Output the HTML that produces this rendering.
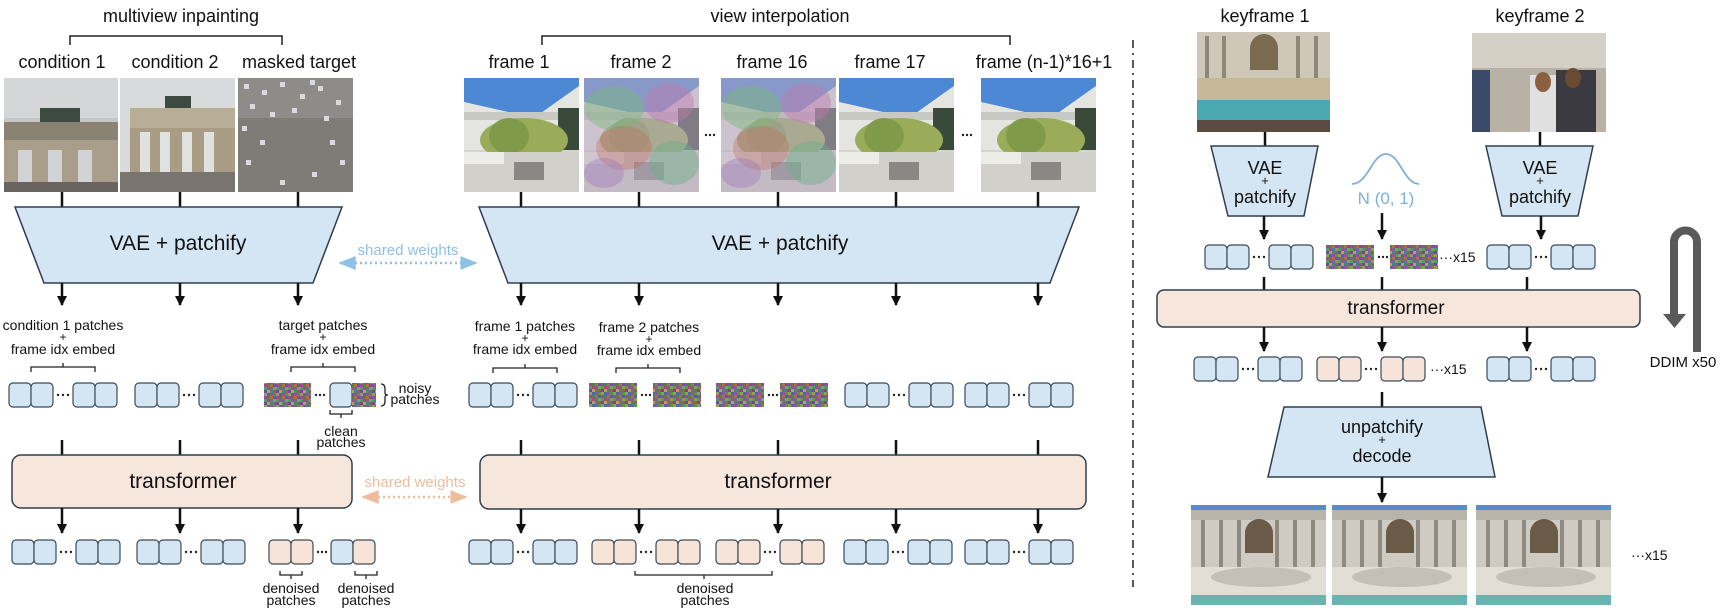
<!DOCTYPE html>
<html><head><meta charset="utf-8"><style>
html,body{margin:0;padding:0;background:#fff;}
svg{display:block;font-family:"Liberation Sans",sans-serif;}
</style></head><body>
<svg width="1724" height="613" viewBox="0 0 1724 613" xmlns="http://www.w3.org/2000/svg">
<defs>
<marker id="ah" viewBox="0 0 10 10" refX="9" refY="5" markerWidth="4" markerHeight="4" orient="auto"><path d="M0,0 L10,5 L0,10 z" fill="#111"/></marker>
<marker id="bh" viewBox="0 0 10 10" refX="9" refY="5" markerWidth="7" markerHeight="7" orient="auto-start-reverse"><path d="M0,1 L10,5 L0,9 z" fill="#8fc0e6"/></marker>
<marker id="oh" viewBox="0 0 10 10" refX="9" refY="5" markerWidth="7" markerHeight="7" orient="auto-start-reverse"><path d="M0,1 L10,5 L0,9 z" fill="#edbd9e"/></marker>
<pattern id="noise" width="12" height="12" patternUnits="userSpaceOnUse">
<rect width="12" height="12" fill="#7a8a6a"/>
<rect x="0" y="0" width="3" height="3" fill="#a04a8a"/><rect x="3" y="0" width="3" height="3" fill="#3f8a4a"/><rect x="6" y="0" width="3" height="3" fill="#c06a3a"/><rect x="9" y="0" width="3" height="3" fill="#5a5ab0"/>
<rect x="0" y="3" width="3" height="3" fill="#4aa06a"/><rect x="3" y="3" width="3" height="3" fill="#b04a6a"/><rect x="6" y="3" width="3" height="3" fill="#6a6aa0"/><rect x="9" y="3" width="3" height="3" fill="#8aa04a"/>
<rect x="0" y="6" width="3" height="3" fill="#6a4aa0"/><rect x="3" y="6" width="3" height="3" fill="#c0a04a"/><rect x="6" y="6" width="3" height="3" fill="#3a8a8a"/><rect x="9" y="6" width="3" height="3" fill="#a05a4a"/>
<rect x="0" y="9" width="3" height="3" fill="#9a9a5a"/><rect x="3" y="9" width="3" height="3" fill="#4a6aa0"/><rect x="6" y="9" width="3" height="3" fill="#a04aa0"/><rect x="9" y="9" width="3" height="3" fill="#4a9a4a"/>
</pattern>
<g id="pb"><rect x="0" y="0" width="22" height="24" rx="4" fill="#d4e6f4" stroke="#3c4a58" stroke-width="1.2"/><rect x="22" y="0" width="22" height="24" rx="4" fill="#d4e6f4" stroke="#3c4a58" stroke-width="1.2"/><circle cx="49" cy="12" r="1.2" fill="#222"/><circle cx="54" cy="12" r="1.2" fill="#222"/><circle cx="59" cy="12" r="1.2" fill="#222"/><rect x="64" y="0" width="22" height="24" rx="4" fill="#d4e6f4" stroke="#3c4a58" stroke-width="1.2"/><rect x="86" y="0" width="22" height="24" rx="4" fill="#d4e6f4" stroke="#3c4a58" stroke-width="1.2"/></g>
<g id="po"><rect x="0" y="0" width="22" height="24" rx="4" fill="#f6e4d8" stroke="#3c4a58" stroke-width="1.2"/><rect x="22" y="0" width="22" height="24" rx="4" fill="#f6e4d8" stroke="#3c4a58" stroke-width="1.2"/><circle cx="49" cy="12" r="1.2" fill="#222"/><circle cx="54" cy="12" r="1.2" fill="#222"/><circle cx="59" cy="12" r="1.2" fill="#222"/><rect x="64" y="0" width="22" height="24" rx="4" fill="#f6e4d8" stroke="#3c4a58" stroke-width="1.2"/><rect x="86" y="0" width="22" height="24" rx="4" fill="#f6e4d8" stroke="#3c4a58" stroke-width="1.2"/></g>
<g id="pn"><rect x="0" y="0" width="48" height="24" fill="url(#noise)"/><circle cx="53" cy="12" r="1.2" fill="#222"/><circle cx="57" cy="12" r="1.2" fill="#222"/><circle cx="61" cy="12" r="1.2" fill="#222"/><rect x="64" y="0" width="48" height="24" fill="url(#noise)"/></g>
<g id="court">
<rect width="115" height="114" fill="#d6d4cf"/>
<polygon points="0,0 115,0 115,8 70,40 0,24" fill="#4d88d4"/>
<polygon points="0,24 70,40 115,8 115,72 0,72" fill="#e4e4e0"/>
<rect x="0" y="34" width="115" height="8" fill="#c9c9c4"/>
<rect x="94" y="30" width="21" height="42" fill="#3a4a3a"/>
<ellipse cx="60" cy="62" rx="44" ry="22" fill="#9aab5a"/>
<ellipse cx="45" cy="58" rx="20" ry="18" fill="#7f9a48"/>
<rect x="0" y="74" width="115" height="40" fill="#d2d0ca"/>
<rect x="0" y="74" width="40" height="12" fill="#ecece8"/>
<rect x="50" y="84" width="30" height="18" fill="#6a6a66" opacity="0.7"/>
</g>
<g id="cnoise">
<rect width="115" height="114" fill="#b8a8c0" opacity="0.55"/>
<ellipse cx="30" cy="30" rx="30" ry="22" fill="#7ab87a" opacity="0.45"/>
<ellipse cx="85" cy="25" rx="25" ry="20" fill="#c07ab0" opacity="0.45"/>
<ellipse cx="40" cy="70" rx="28" ry="22" fill="#c06a5a" opacity="0.35"/>
<ellipse cx="90" cy="85" rx="25" ry="22" fill="#6ab08a" opacity="0.45"/>
<ellipse cx="20" cy="95" rx="20" ry="15" fill="#a07ac0" opacity="0.4"/>
</g>
<g id="trevi">
<rect width="135" height="100" fill="#cfcbc2"/>
<rect width="135" height="5" fill="#5a8ad0"/>
<rect x="0" y="5" width="135" height="10" fill="#b8b4aa"/>
<g fill="#8e8a80"><rect x="10" y="15" width="4" height="50"/><rect x="28" y="15" width="4" height="50"/><rect x="46" y="15" width="4" height="50"/><rect x="84" y="15" width="4" height="50"/><rect x="102" y="15" width="4" height="50"/><rect x="120" y="15" width="4" height="50"/></g>
<path d="M54,48 V28 A14,14 0 0 1 82,28 V48 z" fill="#6a5a48"/>
<rect x="0" y="62" width="135" height="28" fill="#e2ded6"/>
<ellipse cx="70" cy="72" rx="50" ry="10" fill="#b0aca2" opacity="0.6"/>
<rect x="0" y="90" width="135" height="10" fill="#6ab4b0"/>
</g>
</defs>

<!-- LEFT: multiview inpainting -->
<text x="181" y="22" font-size="18" text-anchor="middle" fill="#111">multiview inpainting</text>
<path d="M70,45 V36 H282 V45" fill="none" stroke="#222" stroke-width="1.5"/>
<text x="62" y="68" font-size="18" text-anchor="middle" fill="#111">condition 1</text>
<text x="175" y="68" font-size="18" text-anchor="middle" fill="#111">condition 2</text>
<text x="299" y="68" font-size="18" text-anchor="middle" fill="#111">masked target</text>
<g>
<rect x="4" y="78" width="114" height="114" fill="#c4c6c8"/>
<rect x="4" y="78" width="114" height="40" fill="#d4d6d8"/>
<rect x="40" y="108" width="40" height="14" fill="#3d4a42"/>
<rect x="4" y="122" width="114" height="18" fill="#8a8272"/>
<rect x="4" y="140" width="114" height="52" fill="#a89e8a"/>
<g fill="#d0d2d4"><rect x="18" y="150" width="14" height="42"/><rect x="48" y="150" width="14" height="42"/><rect x="78" y="150" width="14" height="42"/></g>
<rect x="4" y="182" width="114" height="10" fill="#6a6460"/>
</g>
<g>
<rect x="120" y="78" width="115" height="114" fill="#d8dadc"/>
<rect x="165" y="96" width="26" height="12" fill="#3d4a42"/>
<rect x="130" y="108" width="105" height="20" fill="#b8ae98"/>
<rect x="130" y="128" width="105" height="50" fill="#a89c84"/>
<g fill="#e0e2e2"><rect x="140" y="132" width="10" height="44"/><rect x="160" y="132" width="10" height="44"/><rect x="182" y="132" width="10" height="44"/><rect x="204" y="132" width="10" height="44"/></g>
<rect x="120" y="172" width="115" height="20" fill="#7a7470"/>
</g>
<g>
<rect x="238" y="78" width="115" height="114" fill="#7e7c76"/>
<rect x="238" y="78" width="115" height="40" fill="#8e8c88"/>
<g fill="#d8dade"><rect x="244" y="84" width="5" height="5"/><rect x="262" y="90" width="5" height="5"/><rect x="280" y="82" width="5" height="5"/><rect x="300" y="94" width="5" height="5"/><rect x="318" y="86" width="5" height="5"/><rect x="336" y="100" width="5" height="5"/><rect x="250" y="104" width="5" height="5"/><rect x="270" y="112" width="5" height="5"/><rect x="292" y="108" width="5" height="5"/><rect x="324" y="116" width="5" height="5"/><rect x="242" y="126" width="5" height="5"/><rect x="260" y="140" width="5" height="5"/><rect x="330" y="140" width="5" height="5"/><rect x="246" y="160" width="5" height="5"/><rect x="312" y="172" width="5" height="5"/><rect x="280" y="180" width="5" height="5"/><rect x="340" y="160" width="5" height="5"/><rect x="310" y="80" width="5" height="5"/></g>
</g>
<g stroke="#111" stroke-width="2.5"><line x1="62" y1="192" x2="62" y2="207"/><line x1="180" y1="192" x2="180" y2="207"/><line x1="298" y1="192" x2="298" y2="207"/></g>
<polygon points="15,207 342,207 313,283 44,283" fill="#d4e6f4" stroke="#2e3e4e" stroke-width="1.5"/>
<text x="178" y="250" font-size="21" text-anchor="middle" fill="#111">VAE + patchify</text>
<g stroke="#111" stroke-width="2.5" marker-end="url(#ah)"><line x1="62" y1="283" x2="62" y2="305"/><line x1="180" y1="283" x2="180" y2="305"/><line x1="298" y1="283" x2="298" y2="305"/></g>
<text x="408" y="255" font-size="15" text-anchor="middle" fill="#8fc0e6">shared weights</text>
<line x1="340" y1="263" x2="476" y2="263" stroke="#8fc0e6" stroke-width="2.5" stroke-dasharray="2 3" marker-start="url(#bh)" marker-end="url(#bh)"/>
<g font-size="14" text-anchor="middle" fill="#111">
<text x="63" y="330">condition 1 patches</text><text x="63" y="341" font-size="12">+</text><text x="63" y="354">frame idx embed</text>
<text x="323" y="330">target patches</text><text x="323" y="341" font-size="12">+</text><text x="323" y="354">frame idx embed</text>
</g>
<g fill="none" stroke="#222" stroke-width="1.3">
<path d="M31,372 V367 H95 V372 M63,367 V363"/>
<path d="M291,372 V367 H355 V372 M323,367 V363"/>
</g>
<use href="#pb" x="9" y="383"/>
<use href="#pb" x="135" y="383"/>
<rect x="264" y="383" width="47" height="24" fill="url(#noise)"/>
<circle cx="316" cy="395" r="1.2" fill="#222"/><circle cx="320" cy="395" r="1.2" fill="#222"/><circle cx="324" cy="395" r="1.2" fill="#222"/>
<rect x="330" y="383" width="22" height="24" rx="4" fill="#d4e6f4" stroke="#3c4a58" stroke-width="1.2"/>
<rect x="352" y="383" width="24" height="24" fill="url(#noise)"/>
<path d="M381,384 Q385,384 385,389 V393 Q385,395 388,395 Q385,395 385,397 V401 Q385,406 381,406" fill="none" stroke="#222" stroke-width="1.3"/>
<text x="415" y="393" font-size="14" text-anchor="middle" fill="#111">noisy</text>
<text x="415" y="404" font-size="14" text-anchor="middle" fill="#111">patches</text>
<path d="M330,410 V414 H352 V410 M341,414 V418" fill="none" stroke="#222" stroke-width="1.3"/>
<text x="341" y="436" font-size="14" text-anchor="middle" fill="#111">clean</text>
<text x="341" y="447" font-size="14" text-anchor="middle" fill="#111">patches</text>
<g stroke="#111" stroke-width="2.5"><line x1="62" y1="440" x2="62" y2="455"/><line x1="180" y1="440" x2="180" y2="455"/><line x1="298" y1="440" x2="298" y2="455"/></g>
<rect x="12" y="455" width="340" height="53" rx="9" fill="#f7e6dc" stroke="#2e3e4e" stroke-width="1.5"/>
<text x="183" y="488" font-size="21" text-anchor="middle" fill="#111">transformer</text>
<text x="415" y="487" font-size="15" text-anchor="middle" fill="#edbd9e">shared weights</text>
<line x1="363" y1="497" x2="466" y2="497" stroke="#edbd9e" stroke-width="2.5" stroke-dasharray="2 3" marker-start="url(#oh)" marker-end="url(#oh)"/>
<g stroke="#111" stroke-width="2.5" marker-end="url(#ah)"><line x1="62" y1="508" x2="62" y2="533"/><line x1="180" y1="508" x2="180" y2="533"/><line x1="298" y1="508" x2="298" y2="533"/></g>
<use href="#pb" x="12" y="540"/>
<use href="#pb" x="137" y="540"/>
<rect x="269" y="540" width="22" height="24" rx="4" fill="#f6e4d8" stroke="#3c4a58" stroke-width="1.2"/>
<rect x="291" y="540" width="22" height="24" rx="4" fill="#f6e4d8" stroke="#3c4a58" stroke-width="1.2"/>
<circle cx="318" cy="552" r="1.2" fill="#222"/><circle cx="322" cy="552" r="1.2" fill="#222"/><circle cx="326" cy="552" r="1.2" fill="#222"/>
<rect x="331" y="540" width="22" height="24" rx="4" fill="#d4e6f4" stroke="#3c4a58" stroke-width="1.2"/>
<rect x="353" y="540" width="22" height="24" rx="4" fill="#f6e4d8" stroke="#3c4a58" stroke-width="1.2"/>
<path d="M280,571 V575 H302 V571 M291,575 V579 M355,571 V575 H377 V571 M366,575 V579" fill="none" stroke="#222" stroke-width="1.3"/>
<g font-size="14" text-anchor="middle" fill="#111"><text x="291" y="593">denoised</text><text x="291" y="605">patches</text><text x="366" y="593">denoised</text><text x="366" y="605">patches</text></g>

<!-- MIDDLE -->
<text x="780" y="22" font-size="18" text-anchor="middle" fill="#111">view interpolation</text>
<path d="M542,45 V36 H1010 V45" fill="none" stroke="#222" stroke-width="1.5"/>
<g font-size="18" text-anchor="middle" fill="#111">
<text x="519" y="68">frame 1</text><text x="641" y="68">frame 2</text><text x="772" y="68">frame 16</text><text x="890" y="68">frame 17</text><text x="1044" y="68">frame (n-1)*16+1</text>
</g>
<use href="#court" x="464" y="78"/>
<use href="#court" x="584" y="78"/><use href="#cnoise" x="584" y="78"/>
<use href="#court" x="721" y="78"/><use href="#cnoise" x="721" y="78"/>
<use href="#court" x="839" y="78"/>
<use href="#court" x="981" y="78"/>
<g fill="#222"><circle cx="706" cy="135" r="1.2"/><circle cx="710" cy="135" r="1.2"/><circle cx="714" cy="135" r="1.2"/><circle cx="963" cy="135" r="1.2"/><circle cx="967" cy="135" r="1.2"/><circle cx="971" cy="135" r="1.2"/></g>
<g stroke="#111" stroke-width="2.5"><line x1="521" y1="192" x2="521" y2="207"/><line x1="639" y1="192" x2="639" y2="207"/><line x1="778" y1="192" x2="778" y2="207"/><line x1="896" y1="192" x2="896" y2="207"/><line x1="1038" y1="192" x2="1038" y2="207"/></g>
<polygon points="479,207 1079,207 1050,283 508,283" fill="#d4e6f4" stroke="#2e3e4e" stroke-width="1.5"/>
<text x="780" y="250" font-size="21" text-anchor="middle" fill="#111">VAE + patchify</text>
<g stroke="#111" stroke-width="2.5" marker-end="url(#ah)"><line x1="521" y1="283" x2="521" y2="305"/><line x1="639" y1="283" x2="639" y2="305"/><line x1="778" y1="283" x2="778" y2="305"/><line x1="896" y1="283" x2="896" y2="305"/><line x1="1038" y1="283" x2="1038" y2="305"/></g>
<g font-size="14" text-anchor="middle" fill="#111">
<text x="525" y="331">frame 1 patches</text><text x="525" y="342" font-size="12">+</text><text x="525" y="354">frame idx embed</text>
<text x="649" y="332">frame 2 patches</text><text x="649" y="343" font-size="12">+</text><text x="649" y="355">frame idx embed</text>
</g>
<path d="M493,373 V368 H557 V373 M525,368 V364 M616,373 V368 H680 V373 M648,368 V364" fill="none" stroke="#222" stroke-width="1.3"/>
<use href="#pb" x="469" y="383"/>
<use href="#pn" x="589" y="383"/>
<use href="#pn" x="716" y="383"/>
<use href="#pb" x="845" y="383"/>
<use href="#pb" x="965" y="383"/>
<g stroke="#111" stroke-width="2.5"><line x1="521" y1="440" x2="521" y2="455"/><line x1="639" y1="440" x2="639" y2="455"/><line x1="778" y1="440" x2="778" y2="455"/><line x1="896" y1="440" x2="896" y2="455"/><line x1="1038" y1="440" x2="1038" y2="455"/></g>
<rect x="480" y="455" width="606" height="54" rx="9" fill="#f7e6dc" stroke="#2e3e4e" stroke-width="1.5"/>
<text x="778" y="488" font-size="21" text-anchor="middle" fill="#111">transformer</text>
<g stroke="#111" stroke-width="2.5" marker-end="url(#ah)"><line x1="521" y1="509" x2="521" y2="533"/><line x1="639" y1="509" x2="639" y2="533"/><line x1="778" y1="509" x2="778" y2="533"/><line x1="896" y1="509" x2="896" y2="533"/><line x1="1038" y1="509" x2="1038" y2="533"/></g>
<use href="#pb" x="469" y="540"/>
<use href="#po" x="592" y="540"/>
<use href="#po" x="716" y="540"/>
<use href="#pb" x="844" y="540"/>
<use href="#pb" x="965" y="540"/>
<path d="M635,571 V575 H772 V571 M704,575 V579" fill="none" stroke="#222" stroke-width="1.3"/>
<text x="705" y="593" font-size="14" text-anchor="middle" fill="#111">denoised</text>
<text x="705" y="605" font-size="14" text-anchor="middle" fill="#111">patches</text>

<line x1="1133" y1="40" x2="1133" y2="587" stroke="#222" stroke-width="1.5" stroke-dasharray="8 5 2 5"/>

<!-- RIGHT -->
<text x="1265" y="22" font-size="18" text-anchor="middle" fill="#111">keyframe 1</text>
<text x="1540" y="22" font-size="18" text-anchor="middle" fill="#111">keyframe 2</text>
<g>
<rect x="1197" y="32" width="133" height="100" fill="#cfc8b8"/>
<g fill="#8e887a"><rect x="1205" y="36" width="4" height="45"/><rect x="1222" y="36" width="4" height="45"/><rect x="1296" y="36" width="4" height="45"/><rect x="1314" y="36" width="4" height="45"/></g>
<path d="M1250,70 V48 A14,14 0 0 1 1278,48 V70 z" fill="#7a6a50"/>
<rect x="1197" y="78" width="133" height="22" fill="#c8b89a"/>
<rect x="1197" y="100" width="133" height="22" fill="#4aa8b0"/>
<rect x="1197" y="120" width="133" height="12" fill="#5a4a40"/>
</g>
<g>
<rect x="1472" y="33" width="134" height="99" fill="#b8b2a6"/>
<rect x="1472" y="33" width="134" height="35" fill="#d4d0c6"/>
<rect x="1472" y="70" width="18" height="62" fill="#3a4a68"/>
<rect x="1530" y="75" width="26" height="57" fill="#e0e0e0"/>
<rect x="1556" y="70" width="40" height="62" fill="#3a3a40"/>
<ellipse cx="1543" cy="82" rx="8" ry="10" fill="#8a6040"/>
<ellipse cx="1573" cy="78" rx="8" ry="10" fill="#6a4a30"/>
</g>
<g stroke="#111" stroke-width="2.5"><line x1="1265" y1="132" x2="1265" y2="146"/><line x1="1540" y1="132" x2="1540" y2="146"/></g>
<polygon points="1211,146 1318,146 1304,216 1228,216" fill="#d4e6f4" stroke="#2e3e4e" stroke-width="1.5"/>
<polygon points="1486,146 1593,146 1578,216 1502,216" fill="#d4e6f4" stroke="#2e3e4e" stroke-width="1.5"/>
<g font-size="18" text-anchor="middle" fill="#111">
<text x="1265" y="174">VAE</text><text x="1265" y="185" font-size="13">+</text><text x="1265" y="203">patchify</text>
<text x="1540" y="174">VAE</text><text x="1540" y="185" font-size="13">+</text><text x="1540" y="203">patchify</text>
</g>
<path d="M1352,184 C1368,184 1372,154 1386,154 C1400,154 1404,184 1419,184" fill="none" stroke="#7fb0dc" stroke-width="1.8"/>
<text x="1386" y="204" font-size="17" text-anchor="middle" fill="#7fb0dc">N (0, 1)</text>
<g stroke="#111" stroke-width="2.5" marker-end="url(#ah)"><line x1="1264" y1="216" x2="1264" y2="239"/><line x1="1382" y1="213" x2="1382" y2="239"/><line x1="1541" y1="216" x2="1541" y2="239"/></g>
<use href="#pb" x="1205" y="245"/>
<use href="#pn" x="1326" y="245"/>
<text x="1439" y="262" font-size="14" fill="#111">···x15</text>
<use href="#pb" x="1487" y="245"/>
<g stroke="#111" stroke-width="2.5"><line x1="1264" y1="277" x2="1264" y2="290"/><line x1="1382" y1="277" x2="1382" y2="290"/><line x1="1527" y1="277" x2="1527" y2="290"/></g>
<rect x="1157" y="290" width="483" height="37" rx="7" fill="#f7e6dc" stroke="#2e3e4e" stroke-width="1.5"/>
<text x="1396" y="314" font-size="19" text-anchor="middle" fill="#111">transformer</text>
<g stroke="#111" stroke-width="2.5" marker-end="url(#ah)"><line x1="1264" y1="327" x2="1264" y2="351"/><line x1="1382" y1="327" x2="1382" y2="351"/><line x1="1527" y1="327" x2="1527" y2="351"/></g>
<use href="#pb" x="1194" y="357"/>
<use href="#po" x="1317" y="357"/>
<text x="1430" y="374" font-size="14" fill="#111">···x15</text>
<use href="#pb" x="1487" y="357"/>
<!-- DDIM loop -->
<path d="M1697,352 V242 A11.5,11.5 0 0 0 1674,242 V315" fill="none" stroke="#5a5a5a" stroke-width="8"/>
<polygon points="1663,314 1686,314 1674.5,328" fill="#5a5a5a"/>
<text x="1683" y="367" font-size="15" text-anchor="middle" fill="#111">DDIM x50</text>
<line x1="1382" y1="392" x2="1382" y2="407" stroke="#111" stroke-width="2.5"/>
<polygon points="1284,407 1481,407 1495,477 1268,477" fill="#d4e6f4" stroke="#2e3e4e" stroke-width="1.5"/>
<g font-size="18" text-anchor="middle" fill="#111"><text x="1382" y="433">unpatchify</text><text x="1382" y="444" font-size="13">+</text><text x="1382" y="462">decode</text></g>
<line x1="1382" y1="477" x2="1382" y2="502" stroke="#111" stroke-width="2.5" marker-end="url(#ah)"/>
<use href="#trevi" x="1191" y="505"/>
<use href="#trevi" x="1332" y="505"/>
<use href="#trevi" x="1476" y="505"/>
<text x="1631" y="560" font-size="14" fill="#111">···x15</text>
</svg>
</body></html>
